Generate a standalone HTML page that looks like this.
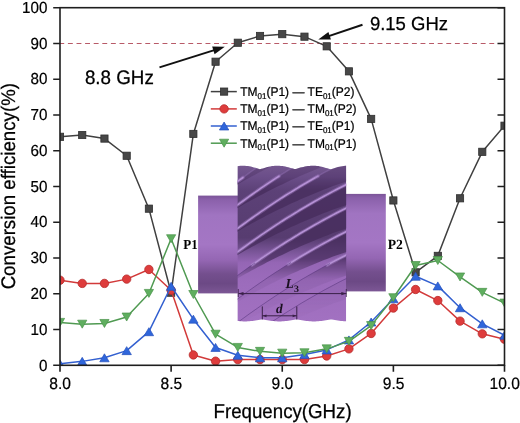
<!DOCTYPE html><html><head><meta charset="utf-8"><title>Conversion efficiency</title><style>html,body{margin:0;padding:0;background:#fff;}svg{display:block;}</style></head><body>
<svg width="520" height="423" viewBox="0 0 520 423" text-rendering="geometricPrecision" font-family='"Liberation Sans", sans-serif'>
<rect width="520" height="423" fill="#fff"/>
<line x1="59.3" y1="43.46" x2="504.5" y2="43.46" stroke="#b85a68" stroke-width="1.1" stroke-dasharray="4.9 3.7"/>
<defs>
<linearGradient id="fl" x1="0" y1="0" x2="0" y2="1"><stop offset="0" stop-color="#7b5598"/><stop offset="0.04" stop-color="#8a60aa"/><stop offset="0.2" stop-color="#a074c1"/><stop offset="0.5" stop-color="#a476c4"/><stop offset="0.66" stop-color="#9466b3"/><stop offset="0.8" stop-color="#744f8e"/><stop offset="0.9" stop-color="#6c4985"/><stop offset="1" stop-color="#7c5795"/></linearGradient>
<linearGradient id="bodyg" gradientUnits="userSpaceOnUse" x1="0" y1="166" x2="0" y2="322"><stop offset="0" stop-color="#74578f"/><stop offset="0.07" stop-color="#6b4e89"/><stop offset="0.16" stop-color="#5c4177"/><stop offset="0.46" stop-color="#573c70"/><stop offset="0.55" stop-color="#7a5598"/><stop offset="0.62" stop-color="#9566b5"/><stop offset="0.75" stop-color="#9c6cbc"/><stop offset="1" stop-color="#a271c1"/></linearGradient>
<clipPath id="bodyclip"><path d="M237.4,166.2 L238.9,166.0 L240.4,165.8 L241.9,165.7 L243.4,165.7 L244.9,165.7 L246.4,165.9 L247.9,166.0 L249.4,166.3 L250.9,166.6 L252.4,166.9 L253.9,167.4 L255.4,167.8 L256.9,168.3 L258.4,168.8 L259.9,169.3 L261.4,168.8 L262.9,168.4 L264.4,167.9 L265.9,167.5 L267.4,167.1 L268.9,166.7 L270.4,166.4 L271.9,166.1 L273.4,165.9 L274.9,165.8 L276.4,165.7 L277.9,165.7 L279.4,165.8 L280.9,165.9 L282.4,166.0 L283.9,166.3 L285.4,166.6 L286.9,166.9 L288.4,167.3 L289.9,167.7 L291.4,168.2 L292.9,168.6 L294.4,169.1 L295.9,169.0 L297.4,168.5 L298.9,168.1 L300.4,167.6 L301.9,167.2 L303.4,166.9 L304.9,166.5 L306.4,166.3 L307.9,166.0 L309.4,165.9 L310.9,165.7 L312.4,165.7 L313.9,165.7 L315.4,165.8 L316.9,165.9 L318.4,166.1 L319.9,166.4 L321.4,166.7 L322.9,167.1 L324.4,167.4 L325.9,167.9 L327.4,168.3 L328.9,168.8 L330.4,169.3 L331.9,168.9 L333.4,168.4 L334.9,167.9 L336.4,167.5 L337.9,167.1 L339.4,166.7 L340.9,166.4 L342.4,166.2 L343.9,166.0 L345.4,165.8 L346.2,165.8 L346.2,321.3 L345.4,321.3 L343.9,321.2 L342.4,321.1 L340.9,320.9 L339.4,320.7 L337.9,320.5 L336.4,320.3 L334.9,320.0 L333.4,319.8 L331.9,319.5 L330.4,319.6 L328.9,319.8 L327.4,320.1 L325.9,320.3 L324.4,320.6 L322.9,320.8 L321.4,321.0 L319.9,321.1 L318.4,321.2 L316.9,321.3 L315.4,321.4 L313.9,321.4 L312.4,321.4 L310.9,321.3 L309.4,321.2 L307.9,321.1 L306.4,320.9 L304.9,320.7 L303.4,320.5 L301.9,320.3 L300.4,320.0 L298.9,319.8 L297.4,319.5 L295.9,319.6 L294.4,319.8 L292.9,320.1 L291.4,320.3 L289.9,320.6 L288.4,320.8 L286.9,321.0 L285.4,321.1 L283.9,321.2 L282.4,321.3 L280.9,321.4 L279.4,321.4 L277.9,321.4 L276.4,321.3 L274.9,321.2 L273.4,321.1 L271.9,320.9 L270.4,320.7 L268.9,320.5 L267.4,320.3 L265.9,320.0 L264.4,319.8 L262.9,319.5 L261.4,319.6 L259.9,319.8 L258.4,320.1 L256.9,320.3 L255.4,320.6 L253.9,320.8 L252.4,321.0 L250.9,321.1 L249.4,321.2 L247.9,321.3 L246.4,321.4 L244.9,321.4 L243.4,321.4 L241.9,321.3 L240.4,321.2 L238.9,321.1 L237.4,320.9 Z"/></clipPath>
<linearGradient id="wm" gradientUnits="userSpaceOnUse" x1="0" y1="160" x2="0" y2="325"><stop offset="0" stop-color="#fff" stop-opacity="0.35"/><stop offset="0.1" stop-color="#fff" stop-opacity="0.5"/><stop offset="0.18" stop-color="#fff" stop-opacity="1"/><stop offset="0.6" stop-color="#fff" stop-opacity="1"/><stop offset="0.72" stop-color="#fff" stop-opacity="0.15"/><stop offset="1" stop-color="#fff" stop-opacity="0"/></linearGradient>
<mask id="wmask" maskUnits="userSpaceOnUse" x="230" y="155" width="125" height="175"><rect x="230" y="155" width="125" height="175" fill="url(#wm)"/></mask>
</defs>
<rect x="198.1" y="195.6" width="40" height="97.8" fill="url(#fl)"/>
<rect x="345.6" y="193.9" width="40.2" height="97.5" fill="url(#fl)"/>
<g clip-path="url(#bodyclip)">
<rect x="237.4" y="160" width="108.79999999999998" height="165" fill="url(#bodyg)"/>
<g mask="url(#wmask)">
<path d="M234.0,137.1 L237.0,134.9 L240.0,132.7 L243.0,130.5 L246.0,128.3 L249.0,126.1 L252.0,124.0 L255.0,121.9 L258.0,119.8 L261.0,117.7 L264.0,115.7 L267.0,113.6 L270.0,111.6 L273.0,109.6 L276.0,107.6 L279.0,105.7 L282.0,103.7 L285.0,101.8 L288.0,99.9 L291.0,98.1 L294.0,96.2 L297.0,94.4 L300.0,92.5 L303.0,90.7 L306.0,89.0 L309.0,87.2 L312.0,85.5 L315.0,83.8 L318.0,82.1 L321.0,80.4 L324.0,78.7 L327.0,77.1 L330.0,75.5 L333.0,73.9 L336.0,72.3 L339.0,70.7 L342.0,69.2 L345.0,67.7 L348.0,66.2 L351.0,64.7 L351.0,85.8 L348.0,86.8 L345.0,87.9 L342.0,88.9 L339.0,90.0 L336.0,91.0 L333.0,92.1 L330.0,93.3 L327.0,94.4 L324.0,95.6 L321.0,96.7 L318.0,97.9 L315.0,99.2 L312.0,100.4 L309.0,101.7 L306.0,102.9 L303.0,104.2 L300.0,105.5 L297.0,106.9 L294.0,108.2 L291.0,109.6 L288.0,111.0 L285.0,112.4 L282.0,113.9 L279.0,115.3 L276.0,116.8 L273.0,118.3 L270.0,119.8 L267.0,121.3 L264.0,122.9 L261.0,124.5 L258.0,126.1 L255.0,127.7 L252.0,129.3 L249.0,131.0 L246.0,132.6 L243.0,134.3 L240.0,136.1 L237.0,137.8 L234.0,139.5 Z" fill="#442b5a" fill-opacity="0.7"/>
<path d="M234.0,160.6 L237.0,158.4 L240.0,156.2 L243.0,154.0 L246.0,151.8 L249.0,149.6 L252.0,147.5 L255.0,145.4 L258.0,143.3 L261.0,141.2 L264.0,139.2 L267.0,137.1 L270.0,135.1 L273.0,133.1 L276.0,131.1 L279.0,129.2 L282.0,127.2 L285.0,125.3 L288.0,123.4 L291.0,121.6 L294.0,119.7 L297.0,117.9 L300.0,116.0 L303.0,114.2 L306.0,112.5 L309.0,110.7 L312.0,109.0 L315.0,107.3 L318.0,105.6 L321.0,103.9 L324.0,102.2 L327.0,100.6 L330.0,99.0 L333.0,97.4 L336.0,95.8 L339.0,94.2 L342.0,92.7 L345.0,91.2 L348.0,89.7 L351.0,88.2 L351.0,109.3 L348.0,110.3 L345.0,111.4 L342.0,112.4 L339.0,113.5 L336.0,114.5 L333.0,115.6 L330.0,116.8 L327.0,117.9 L324.0,119.1 L321.0,120.2 L318.0,121.4 L315.0,122.7 L312.0,123.9 L309.0,125.2 L306.0,126.4 L303.0,127.7 L300.0,129.0 L297.0,130.4 L294.0,131.7 L291.0,133.1 L288.0,134.5 L285.0,135.9 L282.0,137.4 L279.0,138.8 L276.0,140.3 L273.0,141.8 L270.0,143.3 L267.0,144.8 L264.0,146.4 L261.0,148.0 L258.0,149.6 L255.0,151.2 L252.0,152.8 L249.0,154.5 L246.0,156.1 L243.0,157.8 L240.0,159.6 L237.0,161.3 L234.0,163.0 Z" fill="#442b5a" fill-opacity="0.7"/>
<path d="M234.0,184.1 L237.0,181.9 L240.0,179.7 L243.0,177.5 L246.0,175.3 L249.0,173.1 L252.0,171.0 L255.0,168.9 L258.0,166.8 L261.0,164.7 L264.0,162.7 L267.0,160.6 L270.0,158.6 L273.0,156.6 L276.0,154.6 L279.0,152.7 L282.0,150.7 L285.0,148.8 L288.0,146.9 L291.0,145.1 L294.0,143.2 L297.0,141.4 L300.0,139.5 L303.0,137.7 L306.0,136.0 L309.0,134.2 L312.0,132.5 L315.0,130.8 L318.0,129.1 L321.0,127.4 L324.0,125.7 L327.0,124.1 L330.0,122.5 L333.0,120.9 L336.0,119.3 L339.0,117.7 L342.0,116.2 L345.0,114.7 L348.0,113.2 L351.0,111.7 L351.0,132.8 L348.0,133.8 L345.0,134.9 L342.0,135.9 L339.0,137.0 L336.0,138.0 L333.0,139.1 L330.0,140.3 L327.0,141.4 L324.0,142.6 L321.0,143.7 L318.0,144.9 L315.0,146.2 L312.0,147.4 L309.0,148.7 L306.0,149.9 L303.0,151.2 L300.0,152.5 L297.0,153.9 L294.0,155.2 L291.0,156.6 L288.0,158.0 L285.0,159.4 L282.0,160.9 L279.0,162.3 L276.0,163.8 L273.0,165.3 L270.0,166.8 L267.0,168.3 L264.0,169.9 L261.0,171.5 L258.0,173.1 L255.0,174.7 L252.0,176.3 L249.0,178.0 L246.0,179.6 L243.0,181.3 L240.0,183.1 L237.0,184.8 L234.0,186.5 Z" fill="#442b5a" fill-opacity="0.7"/>
<path d="M234.0,207.6 L237.0,205.4 L240.0,203.2 L243.0,201.0 L246.0,198.8 L249.0,196.6 L252.0,194.5 L255.0,192.4 L258.0,190.3 L261.0,188.2 L264.0,186.2 L267.0,184.1 L270.0,182.1 L273.0,180.1 L276.0,178.1 L279.0,176.2 L282.0,174.2 L285.0,172.3 L288.0,170.4 L291.0,168.6 L294.0,166.7 L297.0,164.9 L300.0,163.0 L303.0,161.2 L306.0,159.5 L309.0,157.7 L312.0,156.0 L315.0,154.3 L318.0,152.6 L321.0,150.9 L324.0,149.2 L327.0,147.6 L330.0,146.0 L333.0,144.4 L336.0,142.8 L339.0,141.2 L342.0,139.7 L345.0,138.2 L348.0,136.7 L351.0,135.2 L351.0,156.3 L348.0,157.3 L345.0,158.4 L342.0,159.4 L339.0,160.5 L336.0,161.5 L333.0,162.6 L330.0,163.8 L327.0,164.9 L324.0,166.1 L321.0,167.2 L318.0,168.4 L315.0,169.7 L312.0,170.9 L309.0,172.2 L306.0,173.4 L303.0,174.7 L300.0,176.0 L297.0,177.4 L294.0,178.7 L291.0,180.1 L288.0,181.5 L285.0,182.9 L282.0,184.4 L279.0,185.8 L276.0,187.3 L273.0,188.8 L270.0,190.3 L267.0,191.8 L264.0,193.4 L261.0,195.0 L258.0,196.6 L255.0,198.2 L252.0,199.8 L249.0,201.5 L246.0,203.1 L243.0,204.8 L240.0,206.6 L237.0,208.3 L234.0,210.0 Z" fill="#442b5a" fill-opacity="0.7"/>
<path d="M234.0,231.1 L237.0,228.9 L240.0,226.7 L243.0,224.5 L246.0,222.3 L249.0,220.1 L252.0,218.0 L255.0,215.9 L258.0,213.8 L261.0,211.7 L264.0,209.7 L267.0,207.6 L270.0,205.6 L273.0,203.6 L276.0,201.6 L279.0,199.7 L282.0,197.7 L285.0,195.8 L288.0,193.9 L291.0,192.1 L294.0,190.2 L297.0,188.4 L300.0,186.5 L303.0,184.7 L306.0,183.0 L309.0,181.2 L312.0,179.5 L315.0,177.8 L318.0,176.1 L321.0,174.4 L324.0,172.7 L327.0,171.1 L330.0,169.5 L333.0,167.9 L336.0,166.3 L339.0,164.7 L342.0,163.2 L345.0,161.7 L348.0,160.2 L351.0,158.7 L351.0,179.8 L348.0,180.8 L345.0,181.9 L342.0,182.9 L339.0,184.0 L336.0,185.0 L333.0,186.1 L330.0,187.3 L327.0,188.4 L324.0,189.6 L321.0,190.7 L318.0,191.9 L315.0,193.2 L312.0,194.4 L309.0,195.7 L306.0,196.9 L303.0,198.2 L300.0,199.5 L297.0,200.9 L294.0,202.2 L291.0,203.6 L288.0,205.0 L285.0,206.4 L282.0,207.9 L279.0,209.3 L276.0,210.8 L273.0,212.3 L270.0,213.8 L267.0,215.3 L264.0,216.9 L261.0,218.5 L258.0,220.1 L255.0,221.7 L252.0,223.3 L249.0,225.0 L246.0,226.6 L243.0,228.3 L240.0,230.1 L237.0,231.8 L234.0,233.5 Z" fill="#442b5a" fill-opacity="0.7"/>
<path d="M234.0,254.6 L237.0,252.4 L240.0,250.2 L243.0,248.0 L246.0,245.8 L249.0,243.6 L252.0,241.5 L255.0,239.4 L258.0,237.3 L261.0,235.2 L264.0,233.2 L267.0,231.1 L270.0,229.1 L273.0,227.1 L276.0,225.1 L279.0,223.2 L282.0,221.2 L285.0,219.3 L288.0,217.4 L291.0,215.6 L294.0,213.7 L297.0,211.9 L300.0,210.0 L303.0,208.2 L306.0,206.5 L309.0,204.7 L312.0,203.0 L315.0,201.3 L318.0,199.6 L321.0,197.9 L324.0,196.2 L327.0,194.6 L330.0,193.0 L333.0,191.4 L336.0,189.8 L339.0,188.2 L342.0,186.7 L345.0,185.2 L348.0,183.7 L351.0,182.2 L351.0,203.3 L348.0,204.3 L345.0,205.4 L342.0,206.4 L339.0,207.5 L336.0,208.5 L333.0,209.6 L330.0,210.8 L327.0,211.9 L324.0,213.1 L321.0,214.2 L318.0,215.4 L315.0,216.7 L312.0,217.9 L309.0,219.2 L306.0,220.4 L303.0,221.7 L300.0,223.0 L297.0,224.4 L294.0,225.7 L291.0,227.1 L288.0,228.5 L285.0,229.9 L282.0,231.4 L279.0,232.8 L276.0,234.3 L273.0,235.8 L270.0,237.3 L267.0,238.8 L264.0,240.4 L261.0,242.0 L258.0,243.6 L255.0,245.2 L252.0,246.8 L249.0,248.5 L246.0,250.1 L243.0,251.8 L240.0,253.6 L237.0,255.3 L234.0,257.0 Z" fill="#442b5a" fill-opacity="0.7"/>
<path d="M234.0,278.1 L237.0,275.9 L240.0,273.7 L243.0,271.5 L246.0,269.3 L249.0,267.1 L252.0,265.0 L255.0,262.9 L258.0,260.8 L261.0,258.7 L264.0,256.7 L267.0,254.6 L270.0,252.6 L273.0,250.6 L276.0,248.6 L279.0,246.7 L282.0,244.7 L285.0,242.8 L288.0,240.9 L291.0,239.1 L294.0,237.2 L297.0,235.4 L300.0,233.5 L303.0,231.7 L306.0,230.0 L309.0,228.2 L312.0,226.5 L315.0,224.8 L318.0,223.1 L321.0,221.4 L324.0,219.7 L327.0,218.1 L330.0,216.5 L333.0,214.9 L336.0,213.3 L339.0,211.7 L342.0,210.2 L345.0,208.7 L348.0,207.2 L351.0,205.7 L351.0,226.8 L348.0,227.8 L345.0,228.9 L342.0,229.9 L339.0,231.0 L336.0,232.0 L333.0,233.1 L330.0,234.3 L327.0,235.4 L324.0,236.6 L321.0,237.7 L318.0,238.9 L315.0,240.2 L312.0,241.4 L309.0,242.7 L306.0,243.9 L303.0,245.2 L300.0,246.5 L297.0,247.9 L294.0,249.2 L291.0,250.6 L288.0,252.0 L285.0,253.4 L282.0,254.9 L279.0,256.3 L276.0,257.8 L273.0,259.3 L270.0,260.8 L267.0,262.3 L264.0,263.9 L261.0,265.5 L258.0,267.1 L255.0,268.7 L252.0,270.3 L249.0,272.0 L246.0,273.6 L243.0,275.3 L240.0,277.1 L237.0,278.8 L234.0,280.5 Z" fill="#442b5a" fill-opacity="0.7"/>
<path d="M234.0,301.6 L237.0,299.4 L240.0,297.2 L243.0,295.0 L246.0,292.8 L249.0,290.6 L252.0,288.5 L255.0,286.4 L258.0,284.3 L261.0,282.2 L264.0,280.2 L267.0,278.1 L270.0,276.1 L273.0,274.1 L276.0,272.1 L279.0,270.2 L282.0,268.2 L285.0,266.3 L288.0,264.4 L291.0,262.6 L294.0,260.7 L297.0,258.9 L300.0,257.0 L303.0,255.2 L306.0,253.5 L309.0,251.7 L312.0,250.0 L315.0,248.3 L318.0,246.6 L321.0,244.9 L324.0,243.2 L327.0,241.6 L330.0,240.0 L333.0,238.4 L336.0,236.8 L339.0,235.2 L342.0,233.7 L345.0,232.2 L348.0,230.7 L351.0,229.2 L351.0,250.3 L348.0,251.3 L345.0,252.4 L342.0,253.4 L339.0,254.5 L336.0,255.5 L333.0,256.6 L330.0,257.8 L327.0,258.9 L324.0,260.1 L321.0,261.2 L318.0,262.4 L315.0,263.7 L312.0,264.9 L309.0,266.2 L306.0,267.4 L303.0,268.7 L300.0,270.0 L297.0,271.4 L294.0,272.7 L291.0,274.1 L288.0,275.5 L285.0,276.9 L282.0,278.4 L279.0,279.8 L276.0,281.3 L273.0,282.8 L270.0,284.3 L267.0,285.8 L264.0,287.4 L261.0,289.0 L258.0,290.6 L255.0,292.2 L252.0,293.8 L249.0,295.5 L246.0,297.1 L243.0,298.8 L240.0,300.6 L237.0,302.3 L234.0,304.0 Z" fill="#442b5a" fill-opacity="0.7"/>
<path d="M234.0,325.1 L237.0,322.9 L240.0,320.7 L243.0,318.5 L246.0,316.3 L249.0,314.1 L252.0,312.0 L255.0,309.9 L258.0,307.8 L261.0,305.7 L264.0,303.7 L267.0,301.6 L270.0,299.6 L273.0,297.6 L276.0,295.6 L279.0,293.7 L282.0,291.7 L285.0,289.8 L288.0,287.9 L291.0,286.1 L294.0,284.2 L297.0,282.4 L300.0,280.5 L303.0,278.7 L306.0,277.0 L309.0,275.2 L312.0,273.5 L315.0,271.8 L318.0,270.1 L321.0,268.4 L324.0,266.7 L327.0,265.1 L330.0,263.5 L333.0,261.9 L336.0,260.3 L339.0,258.7 L342.0,257.2 L345.0,255.7 L348.0,254.2 L351.0,252.7 L351.0,273.8 L348.0,274.8 L345.0,275.9 L342.0,276.9 L339.0,278.0 L336.0,279.0 L333.0,280.1 L330.0,281.3 L327.0,282.4 L324.0,283.6 L321.0,284.7 L318.0,285.9 L315.0,287.2 L312.0,288.4 L309.0,289.7 L306.0,290.9 L303.0,292.2 L300.0,293.5 L297.0,294.9 L294.0,296.2 L291.0,297.6 L288.0,299.0 L285.0,300.4 L282.0,301.9 L279.0,303.3 L276.0,304.8 L273.0,306.3 L270.0,307.8 L267.0,309.3 L264.0,310.9 L261.0,312.5 L258.0,314.1 L255.0,315.7 L252.0,317.3 L249.0,319.0 L246.0,320.6 L243.0,322.3 L240.0,324.1 L237.0,325.8 L234.0,327.5 Z" fill="#442b5a" fill-opacity="0.7"/>
<path d="M234.0,348.6 L237.0,346.4 L240.0,344.2 L243.0,342.0 L246.0,339.8 L249.0,337.6 L252.0,335.5 L255.0,333.4 L258.0,331.3 L261.0,329.2 L264.0,327.2 L267.0,325.1 L270.0,323.1 L273.0,321.1 L276.0,319.1 L279.0,317.2 L282.0,315.2 L285.0,313.3 L288.0,311.4 L291.0,309.6 L294.0,307.7 L297.0,305.9 L300.0,304.0 L303.0,302.2 L306.0,300.5 L309.0,298.7 L312.0,297.0 L315.0,295.3 L318.0,293.6 L321.0,291.9 L324.0,290.2 L327.0,288.6 L330.0,287.0 L333.0,285.4 L336.0,283.8 L339.0,282.2 L342.0,280.7 L345.0,279.2 L348.0,277.7 L351.0,276.2 L351.0,297.3 L348.0,298.3 L345.0,299.4 L342.0,300.4 L339.0,301.5 L336.0,302.5 L333.0,303.6 L330.0,304.8 L327.0,305.9 L324.0,307.1 L321.0,308.2 L318.0,309.4 L315.0,310.7 L312.0,311.9 L309.0,313.2 L306.0,314.4 L303.0,315.7 L300.0,317.0 L297.0,318.4 L294.0,319.7 L291.0,321.1 L288.0,322.5 L285.0,323.9 L282.0,325.4 L279.0,326.8 L276.0,328.3 L273.0,329.8 L270.0,331.3 L267.0,332.8 L264.0,334.4 L261.0,336.0 L258.0,337.6 L255.0,339.2 L252.0,340.8 L249.0,342.5 L246.0,344.1 L243.0,345.8 L240.0,347.6 L237.0,349.3 L234.0,351.0 Z" fill="#442b5a" fill-opacity="0.7"/>
</g>
<path d="M234.0,184.1 L237.0,181.9 L240.0,179.7 L243.0,177.5" stroke="#a27cc4" stroke-width="3.6" fill="none" stroke-linecap="round" opacity="0.45"/>
<path d="M234.0,184.1 L237.0,181.9 L240.0,179.7 L243.0,177.5" stroke="#b590d5" stroke-width="1.6" fill="none" stroke-linecap="round"/>
<path d="M243.0,177.5 L246.0,175.3 L249.0,173.1 L252.0,171.0 L255.0,168.9 L258.0,166.8 L261.0,164.7 L264.0,162.7 L267.0,160.6" stroke="#9d7abf" stroke-width="1.5" fill="none" opacity="0.35"/>
<path d="M234.0,207.6 L237.0,205.4 L240.0,203.2 L243.0,201.0 L246.0,198.8 L249.0,196.6 L252.0,194.5 L255.0,192.4 L258.0,190.3 L261.0,188.2 L264.0,186.2 L267.0,184.1 L270.0,182.1 L273.0,180.1 L276.0,178.1 L279.0,176.2" stroke="#a27cc4" stroke-width="3.6" fill="none" stroke-linecap="round" opacity="0.45"/>
<path d="M234.0,207.6 L237.0,205.4 L240.0,203.2 L243.0,201.0 L246.0,198.8 L249.0,196.6 L252.0,194.5 L255.0,192.4 L258.0,190.3 L261.0,188.2 L264.0,186.2 L267.0,184.1 L270.0,182.1 L273.0,180.1 L276.0,178.1 L279.0,176.2" stroke="#b590d5" stroke-width="1.6" fill="none" stroke-linecap="round"/>
<path d="M279.0,176.2 L282.0,174.2 L285.0,172.3 L288.0,170.4 L291.0,168.6 L294.0,166.7 L297.0,164.9 L300.0,163.0 L303.0,161.2" stroke="#9d7abf" stroke-width="1.5" fill="none" opacity="0.35"/>
<path d="M234.0,231.1 L237.0,228.9 L240.0,226.7 L243.0,224.5 L246.0,222.3 L249.0,220.1 L252.0,218.0 L255.0,215.9 L258.0,213.8 L261.0,211.7 L264.0,209.7 L267.0,207.6 L270.0,205.6 L273.0,203.6 L276.0,201.6 L279.0,199.7 L282.0,197.7 L285.0,195.8 L288.0,193.9 L291.0,192.1 L294.0,190.2 L297.0,188.4 L300.0,186.5 L303.0,184.7 L306.0,183.0 L309.0,181.2 L312.0,179.5 L315.0,177.8 L318.0,176.1" stroke="#a27cc4" stroke-width="3.6" fill="none" stroke-linecap="round" opacity="0.45"/>
<path d="M234.0,231.1 L237.0,228.9 L240.0,226.7 L243.0,224.5 L246.0,222.3 L249.0,220.1 L252.0,218.0 L255.0,215.9 L258.0,213.8 L261.0,211.7 L264.0,209.7 L267.0,207.6 L270.0,205.6 L273.0,203.6 L276.0,201.6 L279.0,199.7 L282.0,197.7 L285.0,195.8 L288.0,193.9 L291.0,192.1 L294.0,190.2 L297.0,188.4 L300.0,186.5 L303.0,184.7 L306.0,183.0 L309.0,181.2 L312.0,179.5 L315.0,177.8 L318.0,176.1" stroke="#b590d5" stroke-width="1.6" fill="none" stroke-linecap="round"/>
<path d="M315.0,177.8 L318.0,176.1 L321.0,174.4 L324.0,172.7 L327.0,171.1 L330.0,169.5 L333.0,167.9 L336.0,166.3 L339.0,164.7 L342.0,163.2 L345.0,161.7 L348.0,160.2" stroke="#9d7abf" stroke-width="1.5" fill="none" opacity="0.35"/>
<path d="M234.0,254.6 L237.0,252.4 L240.0,250.2 L243.0,248.0 L246.0,245.8 L249.0,243.6 L252.0,241.5 L255.0,239.4 L258.0,237.3 L261.0,235.2 L264.0,233.2 L267.0,231.1 L270.0,229.1 L273.0,227.1 L276.0,225.1 L279.0,223.2 L282.0,221.2 L285.0,219.3 L288.0,217.4 L291.0,215.6 L294.0,213.7 L297.0,211.9 L300.0,210.0 L303.0,208.2 L306.0,206.5 L309.0,204.7 L312.0,203.0 L315.0,201.3 L318.0,199.6 L321.0,197.9 L324.0,196.2 L327.0,194.6 L330.0,193.0 L333.0,191.4 L336.0,189.8 L339.0,188.2 L342.0,186.7 L345.0,185.2 L348.0,183.7 L351.0,182.2" stroke="#a27cc4" stroke-width="3.6" fill="none" stroke-linecap="round" opacity="0.45"/>
<path d="M234.0,254.6 L237.0,252.4 L240.0,250.2 L243.0,248.0 L246.0,245.8 L249.0,243.6 L252.0,241.5 L255.0,239.4 L258.0,237.3 L261.0,235.2 L264.0,233.2 L267.0,231.1 L270.0,229.1 L273.0,227.1 L276.0,225.1 L279.0,223.2 L282.0,221.2 L285.0,219.3 L288.0,217.4 L291.0,215.6 L294.0,213.7 L297.0,211.9 L300.0,210.0 L303.0,208.2 L306.0,206.5 L309.0,204.7 L312.0,203.0 L315.0,201.3 L318.0,199.6 L321.0,197.9 L324.0,196.2 L327.0,194.6 L330.0,193.0 L333.0,191.4 L336.0,189.8 L339.0,188.2 L342.0,186.7 L345.0,185.2 L348.0,183.7 L351.0,182.2" stroke="#b590d5" stroke-width="1.6" fill="none" stroke-linecap="round"/>
<path d="M252.0,265.0 L255.0,262.9 L258.0,260.8 L261.0,258.7 L264.0,256.7 L267.0,254.6 L270.0,252.6 L273.0,250.6 L276.0,248.6 L279.0,246.7 L282.0,244.7 L285.0,242.8 L288.0,240.9 L291.0,239.1 L294.0,237.2 L297.0,235.4 L300.0,233.5 L303.0,231.7 L306.0,230.0 L309.0,228.2 L312.0,226.5 L315.0,224.8 L318.0,223.1 L321.0,221.4 L324.0,219.7 L327.0,218.1 L330.0,216.5 L333.0,214.9 L336.0,213.3 L339.0,211.7 L342.0,210.2 L345.0,208.7 L348.0,207.2 L351.0,205.7" stroke="#a27cc4" stroke-width="3.6" fill="none" stroke-linecap="round" opacity="0.45"/>
<path d="M252.0,265.0 L255.0,262.9 L258.0,260.8 L261.0,258.7 L264.0,256.7 L267.0,254.6 L270.0,252.6 L273.0,250.6 L276.0,248.6 L279.0,246.7 L282.0,244.7 L285.0,242.8 L288.0,240.9 L291.0,239.1 L294.0,237.2 L297.0,235.4 L300.0,233.5 L303.0,231.7 L306.0,230.0 L309.0,228.2 L312.0,226.5 L315.0,224.8 L318.0,223.1 L321.0,221.4 L324.0,219.7 L327.0,218.1 L330.0,216.5 L333.0,214.9 L336.0,213.3 L339.0,211.7 L342.0,210.2 L345.0,208.7 L348.0,207.2 L351.0,205.7" stroke="#b590d5" stroke-width="1.6" fill="none" stroke-linecap="round"/>
<path d="M234.0,278.1 L237.0,275.9 L240.0,273.7 L243.0,271.5 L246.0,269.3 L249.0,267.1 L252.0,265.0 L255.0,262.9" stroke="#55357a" stroke-width="0.9" fill="none" opacity="0.6"/>
<path d="M288.0,264.4 L291.0,262.6 L294.0,260.7 L297.0,258.9 L300.0,257.0 L303.0,255.2 L306.0,253.5 L309.0,251.7 L312.0,250.0 L315.0,248.3 L318.0,246.6 L321.0,244.9 L324.0,243.2 L327.0,241.6 L330.0,240.0 L333.0,238.4 L336.0,236.8 L339.0,235.2 L342.0,233.7 L345.0,232.2 L348.0,230.7 L351.0,229.2" stroke="#a27cc4" stroke-width="3.6" fill="none" stroke-linecap="round" opacity="0.45"/>
<path d="M288.0,264.4 L291.0,262.6 L294.0,260.7 L297.0,258.9 L300.0,257.0 L303.0,255.2 L306.0,253.5 L309.0,251.7 L312.0,250.0 L315.0,248.3 L318.0,246.6 L321.0,244.9 L324.0,243.2 L327.0,241.6 L330.0,240.0 L333.0,238.4 L336.0,236.8 L339.0,235.2 L342.0,233.7 L345.0,232.2 L348.0,230.7 L351.0,229.2" stroke="#b590d5" stroke-width="1.6" fill="none" stroke-linecap="round"/>
<path d="M234.0,301.6 L237.0,299.4 L240.0,297.2 L243.0,295.0 L246.0,292.8 L249.0,290.6 L252.0,288.5 L255.0,286.4 L258.0,284.3 L261.0,282.2 L264.0,280.2 L267.0,278.1 L270.0,276.1 L273.0,274.1 L276.0,272.1 L279.0,270.2 L282.0,268.2 L285.0,266.3 L288.0,264.4 L291.0,262.6" stroke="#55357a" stroke-width="0.9" fill="none" opacity="0.6"/>
<path d="M327.0,265.1 L330.0,263.5 L333.0,261.9 L336.0,260.3 L339.0,258.7 L342.0,257.2 L345.0,255.7 L348.0,254.2 L351.0,252.7" stroke="#a27cc4" stroke-width="3.6" fill="none" stroke-linecap="round" opacity="0.45"/>
<path d="M327.0,265.1 L330.0,263.5 L333.0,261.9 L336.0,260.3 L339.0,258.7 L342.0,257.2 L345.0,255.7 L348.0,254.2 L351.0,252.7" stroke="#b590d5" stroke-width="1.6" fill="none" stroke-linecap="round"/>
<path d="M234.0,325.1 L237.0,322.9 L240.0,320.7 L243.0,318.5 L246.0,316.3 L249.0,314.1 L252.0,312.0 L255.0,309.9 L258.0,307.8 L261.0,305.7 L264.0,303.7 L267.0,301.6 L270.0,299.6 L273.0,297.6 L276.0,295.6 L279.0,293.7 L282.0,291.7 L285.0,289.8 L288.0,287.9 L291.0,286.1 L294.0,284.2 L297.0,282.4 L300.0,280.5 L303.0,278.7 L306.0,277.0 L309.0,275.2 L312.0,273.5 L315.0,271.8 L318.0,270.1 L321.0,268.4 L324.0,266.7 L327.0,265.1 L330.0,263.5" stroke="#55357a" stroke-width="0.9" fill="none" opacity="0.6"/>
<path d="M234.0,348.6 L237.0,346.4 L240.0,344.2 L243.0,342.0 L246.0,339.8 L249.0,337.6 L252.0,335.5 L255.0,333.4 L258.0,331.3 L261.0,329.2 L264.0,327.2 L267.0,325.1 L270.0,323.1 L273.0,321.1 L276.0,319.1 L279.0,317.2 L282.0,315.2 L285.0,313.3 L288.0,311.4 L291.0,309.6 L294.0,307.7 L297.0,305.9 L300.0,304.0 L303.0,302.2 L306.0,300.5 L309.0,298.7 L312.0,297.0 L315.0,295.3 L318.0,293.6 L321.0,291.9 L324.0,290.2 L327.0,288.6 L330.0,287.0 L333.0,285.4 L336.0,283.8 L339.0,282.2 L342.0,280.7 L345.0,279.2 L348.0,277.7 L351.0,276.2" stroke="#55357a" stroke-width="0.9" fill="none" opacity="0.6"/>
</g>
<g stroke="#3a2048" fill="#3a2048">
<line x1="238.5" y1="293.6" x2="346.3" y2="293.6" stroke-width="1"/>
<polygon points="238.3,293.6 243.5,291.9 243.5,295.3" stroke="none"/>
<polygon points="346.5,293.6 341.3,291.9 341.3,295.3" stroke="none"/>
<line x1="238.3" y1="289" x2="238.3" y2="297" stroke-width="0.8"/>
<line x1="346.3" y1="289" x2="346.3" y2="297" stroke-width="0.8"/>
<line x1="262.3" y1="315.8" x2="296.8" y2="315.8" stroke-width="1"/>
<line x1="262.3" y1="306.4" x2="262.3" y2="319.4" stroke-width="1"/>
<line x1="296.8" y1="306.4" x2="296.8" y2="319.4" stroke-width="1"/>
<polygon points="262.5,315.8 266.5,314.4 266.5,317.2" stroke="none"/>
<polygon points="296.6,315.8 292.6,314.4 292.6,317.2" stroke="none"/>
</g>
<g font-family='"Liberation Serif", serif' font-weight="bold" fill="#1a1020">
<text x="285.6" y="288.3" font-size="13.6" font-style="italic">L<tspan font-size="10" dy="3.2" font-style="normal">3</tspan></text>
<text x="276.0" y="312.9" font-size="13.4" font-style="italic">d</text>
</g>
<g font-family='"Liberation Serif", serif' font-weight="bold" font-size="13.4" fill="#000">
<text transform="translate(183.3 248.5) scale(0.97 1.03)">P1</text>
<text transform="translate(387.7 248.5) scale(1.02 1.05)">P2</text>
</g>
<defs><clipPath id="plotclip"><rect x="60.0" y="7.7" width="444.5" height="357.6"/></clipPath></defs>
<g clip-path="url(#plotclip)">
<polyline points="60.00,136.79 82.22,135.01 104.45,138.58 126.68,155.75 148.90,208.67 171.12,292.71 193.35,133.93 215.57,61.70 237.80,42.74 260.03,35.95 282.25,34.16 304.47,36.67 326.70,46.32 348.93,71.35 371.15,118.91 393.38,200.45 415.60,272.32 437.82,255.87 460.05,198.30 482.28,151.81 504.50,125.71" fill="none" stroke="#404040" stroke-width="1.5" stroke-linejoin="round"/>
<rect x="56.40" y="133.19" width="7.2" height="7.2" fill="#474747" stroke="#2e2e2e" stroke-width="0.8"/><rect x="78.62" y="131.41" width="7.2" height="7.2" fill="#474747" stroke="#2e2e2e" stroke-width="0.8"/><rect x="100.85" y="134.98" width="7.2" height="7.2" fill="#474747" stroke="#2e2e2e" stroke-width="0.8"/><rect x="123.08" y="152.15" width="7.2" height="7.2" fill="#474747" stroke="#2e2e2e" stroke-width="0.8"/><rect x="145.30" y="205.07" width="7.2" height="7.2" fill="#474747" stroke="#2e2e2e" stroke-width="0.8"/><rect x="167.53" y="289.11" width="7.2" height="7.2" fill="#474747" stroke="#2e2e2e" stroke-width="0.8"/><rect x="189.75" y="130.33" width="7.2" height="7.2" fill="#474747" stroke="#2e2e2e" stroke-width="0.8"/><rect x="211.97" y="58.10" width="7.2" height="7.2" fill="#474747" stroke="#2e2e2e" stroke-width="0.8"/><rect x="234.20" y="39.14" width="7.2" height="7.2" fill="#474747" stroke="#2e2e2e" stroke-width="0.8"/><rect x="256.43" y="32.35" width="7.2" height="7.2" fill="#474747" stroke="#2e2e2e" stroke-width="0.8"/><rect x="278.65" y="30.56" width="7.2" height="7.2" fill="#474747" stroke="#2e2e2e" stroke-width="0.8"/><rect x="300.87" y="33.07" width="7.2" height="7.2" fill="#474747" stroke="#2e2e2e" stroke-width="0.8"/><rect x="323.10" y="42.72" width="7.2" height="7.2" fill="#474747" stroke="#2e2e2e" stroke-width="0.8"/><rect x="345.33" y="67.75" width="7.2" height="7.2" fill="#474747" stroke="#2e2e2e" stroke-width="0.8"/><rect x="367.55" y="115.31" width="7.2" height="7.2" fill="#474747" stroke="#2e2e2e" stroke-width="0.8"/><rect x="389.77" y="196.85" width="7.2" height="7.2" fill="#474747" stroke="#2e2e2e" stroke-width="0.8"/><rect x="412.00" y="268.72" width="7.2" height="7.2" fill="#474747" stroke="#2e2e2e" stroke-width="0.8"/><rect x="434.22" y="252.27" width="7.2" height="7.2" fill="#474747" stroke="#2e2e2e" stroke-width="0.8"/><rect x="456.45" y="194.70" width="7.2" height="7.2" fill="#474747" stroke="#2e2e2e" stroke-width="0.8"/><rect x="478.68" y="148.21" width="7.2" height="7.2" fill="#474747" stroke="#2e2e2e" stroke-width="0.8"/><rect x="500.90" y="122.11" width="7.2" height="7.2" fill="#474747" stroke="#2e2e2e" stroke-width="0.8"/>

<polyline points="60.00,280.19 82.22,283.41 104.45,283.41 126.68,279.12 148.90,269.46 171.12,290.20 193.35,354.93 215.57,361.19 237.80,359.58 260.03,359.58 282.25,359.58 304.47,359.58 326.70,356.00 348.93,348.85 371.15,333.47 393.38,308.08 415.60,289.49 437.82,300.57 460.05,321.14 482.28,333.83 504.50,339.20" fill="none" stroke="#d23a3a" stroke-width="1.5" stroke-linejoin="round"/>
<circle cx="60.00" cy="280.19" r="4.2" fill="#de3c3c" stroke="#b82c2c" stroke-width="0.8"/><circle cx="82.22" cy="283.41" r="4.2" fill="#de3c3c" stroke="#b82c2c" stroke-width="0.8"/><circle cx="104.45" cy="283.41" r="4.2" fill="#de3c3c" stroke="#b82c2c" stroke-width="0.8"/><circle cx="126.68" cy="279.12" r="4.2" fill="#de3c3c" stroke="#b82c2c" stroke-width="0.8"/><circle cx="148.90" cy="269.46" r="4.2" fill="#de3c3c" stroke="#b82c2c" stroke-width="0.8"/><circle cx="171.12" cy="290.20" r="4.2" fill="#de3c3c" stroke="#b82c2c" stroke-width="0.8"/><circle cx="193.35" cy="354.93" r="4.2" fill="#de3c3c" stroke="#b82c2c" stroke-width="0.8"/><circle cx="215.57" cy="361.19" r="4.2" fill="#de3c3c" stroke="#b82c2c" stroke-width="0.8"/><circle cx="237.80" cy="359.58" r="4.2" fill="#de3c3c" stroke="#b82c2c" stroke-width="0.8"/><circle cx="260.03" cy="359.58" r="4.2" fill="#de3c3c" stroke="#b82c2c" stroke-width="0.8"/><circle cx="282.25" cy="359.58" r="4.2" fill="#de3c3c" stroke="#b82c2c" stroke-width="0.8"/><circle cx="304.47" cy="359.58" r="4.2" fill="#de3c3c" stroke="#b82c2c" stroke-width="0.8"/><circle cx="326.70" cy="356.00" r="4.2" fill="#de3c3c" stroke="#b82c2c" stroke-width="0.8"/><circle cx="348.93" cy="348.85" r="4.2" fill="#de3c3c" stroke="#b82c2c" stroke-width="0.8"/><circle cx="371.15" cy="333.47" r="4.2" fill="#de3c3c" stroke="#b82c2c" stroke-width="0.8"/><circle cx="393.38" cy="308.08" r="4.2" fill="#de3c3c" stroke="#b82c2c" stroke-width="0.8"/><circle cx="415.60" cy="289.49" r="4.2" fill="#de3c3c" stroke="#b82c2c" stroke-width="0.8"/><circle cx="437.82" cy="300.57" r="4.2" fill="#de3c3c" stroke="#b82c2c" stroke-width="0.8"/><circle cx="460.05" cy="321.14" r="4.2" fill="#de3c3c" stroke="#b82c2c" stroke-width="0.8"/><circle cx="482.28" cy="333.83" r="4.2" fill="#de3c3c" stroke="#b82c2c" stroke-width="0.8"/><circle cx="504.50" cy="339.20" r="4.2" fill="#de3c3c" stroke="#b82c2c" stroke-width="0.8"/>

<polyline points="60.00,363.87 82.22,361.37 104.45,357.79 126.68,350.64 148.90,331.69 171.12,286.27 193.35,319.17 215.57,347.42 237.80,355.29 260.03,357.79 282.25,357.79 304.47,354.57 326.70,349.92 348.93,339.91 371.15,322.03 393.38,298.79 415.60,276.26 437.82,285.91 460.05,307.73 482.28,323.82 504.50,335.26" fill="none" stroke="#3360d0" stroke-width="1.5" stroke-linejoin="round"/>
<polygon points="60.00,359.87 64.70,367.87 55.30,367.87" fill="#2f66db" stroke="#2550bb" stroke-width="0.7" stroke-linejoin="round"/><polygon points="82.22,357.37 86.92,365.37 77.52,365.37" fill="#2f66db" stroke="#2550bb" stroke-width="0.7" stroke-linejoin="round"/><polygon points="104.45,353.79 109.15,361.79 99.75,361.79" fill="#2f66db" stroke="#2550bb" stroke-width="0.7" stroke-linejoin="round"/><polygon points="126.68,346.64 131.38,354.64 121.98,354.64" fill="#2f66db" stroke="#2550bb" stroke-width="0.7" stroke-linejoin="round"/><polygon points="148.90,327.69 153.60,335.69 144.20,335.69" fill="#2f66db" stroke="#2550bb" stroke-width="0.7" stroke-linejoin="round"/><polygon points="171.12,282.27 175.82,290.27 166.43,290.27" fill="#2f66db" stroke="#2550bb" stroke-width="0.7" stroke-linejoin="round"/><polygon points="193.35,315.17 198.05,323.17 188.65,323.17" fill="#2f66db" stroke="#2550bb" stroke-width="0.7" stroke-linejoin="round"/><polygon points="215.57,343.42 220.27,351.42 210.87,351.42" fill="#2f66db" stroke="#2550bb" stroke-width="0.7" stroke-linejoin="round"/><polygon points="237.80,351.29 242.50,359.29 233.10,359.29" fill="#2f66db" stroke="#2550bb" stroke-width="0.7" stroke-linejoin="round"/><polygon points="260.03,353.79 264.73,361.79 255.33,361.79" fill="#2f66db" stroke="#2550bb" stroke-width="0.7" stroke-linejoin="round"/><polygon points="282.25,353.79 286.95,361.79 277.55,361.79" fill="#2f66db" stroke="#2550bb" stroke-width="0.7" stroke-linejoin="round"/><polygon points="304.47,350.57 309.17,358.57 299.77,358.57" fill="#2f66db" stroke="#2550bb" stroke-width="0.7" stroke-linejoin="round"/><polygon points="326.70,345.92 331.40,353.92 322.00,353.92" fill="#2f66db" stroke="#2550bb" stroke-width="0.7" stroke-linejoin="round"/><polygon points="348.93,335.91 353.63,343.91 344.23,343.91" fill="#2f66db" stroke="#2550bb" stroke-width="0.7" stroke-linejoin="round"/><polygon points="371.15,318.03 375.85,326.03 366.45,326.03" fill="#2f66db" stroke="#2550bb" stroke-width="0.7" stroke-linejoin="round"/><polygon points="393.38,294.79 398.07,302.79 388.68,302.79" fill="#2f66db" stroke="#2550bb" stroke-width="0.7" stroke-linejoin="round"/><polygon points="415.60,272.26 420.30,280.26 410.90,280.26" fill="#2f66db" stroke="#2550bb" stroke-width="0.7" stroke-linejoin="round"/><polygon points="437.82,281.91 442.52,289.91 433.12,289.91" fill="#2f66db" stroke="#2550bb" stroke-width="0.7" stroke-linejoin="round"/><polygon points="460.05,303.73 464.75,311.73 455.35,311.73" fill="#2f66db" stroke="#2550bb" stroke-width="0.7" stroke-linejoin="round"/><polygon points="482.28,319.82 486.98,327.82 477.58,327.82" fill="#2f66db" stroke="#2550bb" stroke-width="0.7" stroke-linejoin="round"/><polygon points="504.50,331.26 509.20,339.26 499.80,339.26" fill="#2f66db" stroke="#2550bb" stroke-width="0.7" stroke-linejoin="round"/>

<polyline points="60.00,322.39 82.22,324.18 104.45,323.46 126.68,317.02 148.90,293.42 171.12,238.71 193.35,294.50 215.57,334.19 237.80,347.42 260.03,351.35 282.25,353.14 304.47,352.78 326.70,348.85 348.93,341.34 371.15,325.61 393.38,297.71 415.60,265.53 437.82,260.52 460.05,276.97 482.28,292.35 504.50,303.08" fill="none" stroke="#509a52" stroke-width="1.5" stroke-linejoin="round"/>
<polygon points="55.40,318.39 64.60,318.39 60.00,326.39" fill="#5fae5f" stroke="#4a944a" stroke-width="0.7" stroke-linejoin="round"/><polygon points="77.62,320.18 86.82,320.18 82.22,328.18" fill="#5fae5f" stroke="#4a944a" stroke-width="0.7" stroke-linejoin="round"/><polygon points="99.85,319.46 109.05,319.46 104.45,327.46" fill="#5fae5f" stroke="#4a944a" stroke-width="0.7" stroke-linejoin="round"/><polygon points="122.08,313.02 131.28,313.02 126.68,321.02" fill="#5fae5f" stroke="#4a944a" stroke-width="0.7" stroke-linejoin="round"/><polygon points="144.30,289.42 153.50,289.42 148.90,297.42" fill="#5fae5f" stroke="#4a944a" stroke-width="0.7" stroke-linejoin="round"/><polygon points="166.53,234.71 175.72,234.71 171.12,242.71" fill="#5fae5f" stroke="#4a944a" stroke-width="0.7" stroke-linejoin="round"/><polygon points="188.75,290.50 197.95,290.50 193.35,298.50" fill="#5fae5f" stroke="#4a944a" stroke-width="0.7" stroke-linejoin="round"/><polygon points="210.97,330.19 220.17,330.19 215.57,338.19" fill="#5fae5f" stroke="#4a944a" stroke-width="0.7" stroke-linejoin="round"/><polygon points="233.20,343.42 242.40,343.42 237.80,351.42" fill="#5fae5f" stroke="#4a944a" stroke-width="0.7" stroke-linejoin="round"/><polygon points="255.43,347.35 264.63,347.35 260.03,355.35" fill="#5fae5f" stroke="#4a944a" stroke-width="0.7" stroke-linejoin="round"/><polygon points="277.65,349.14 286.85,349.14 282.25,357.14" fill="#5fae5f" stroke="#4a944a" stroke-width="0.7" stroke-linejoin="round"/><polygon points="299.87,348.78 309.07,348.78 304.47,356.78" fill="#5fae5f" stroke="#4a944a" stroke-width="0.7" stroke-linejoin="round"/><polygon points="322.10,344.85 331.30,344.85 326.70,352.85" fill="#5fae5f" stroke="#4a944a" stroke-width="0.7" stroke-linejoin="round"/><polygon points="344.33,337.34 353.53,337.34 348.93,345.34" fill="#5fae5f" stroke="#4a944a" stroke-width="0.7" stroke-linejoin="round"/><polygon points="366.55,321.61 375.75,321.61 371.15,329.61" fill="#5fae5f" stroke="#4a944a" stroke-width="0.7" stroke-linejoin="round"/><polygon points="388.77,293.71 397.98,293.71 393.38,301.71" fill="#5fae5f" stroke="#4a944a" stroke-width="0.7" stroke-linejoin="round"/><polygon points="411.00,261.53 420.20,261.53 415.60,269.53" fill="#5fae5f" stroke="#4a944a" stroke-width="0.7" stroke-linejoin="round"/><polygon points="433.22,256.52 442.42,256.52 437.82,264.52" fill="#5fae5f" stroke="#4a944a" stroke-width="0.7" stroke-linejoin="round"/><polygon points="455.45,272.97 464.65,272.97 460.05,280.97" fill="#5fae5f" stroke="#4a944a" stroke-width="0.7" stroke-linejoin="round"/><polygon points="477.68,288.35 486.88,288.35 482.28,296.35" fill="#5fae5f" stroke="#4a944a" stroke-width="0.7" stroke-linejoin="round"/><polygon points="499.90,299.08 509.10,299.08 504.50,307.08" fill="#5fae5f" stroke="#4a944a" stroke-width="0.7" stroke-linejoin="round"/>

</g>
<rect x="60.0" y="7.7" width="444.5" height="357.6" fill="none" stroke="#1e1e1e" stroke-width="1.6"/>
<path d="M53.20 365.30H60.0 M497.50 365.30H504.5 M53.20 329.54H60.0 M497.50 329.54H504.5 M53.20 293.78H60.0 M497.50 293.78H504.5 M53.20 258.02H60.0 M497.50 258.02H504.5 M53.20 222.26H60.0 M497.50 222.26H504.5 M53.20 186.50H60.0 M497.50 186.50H504.5 M53.20 150.74H60.0 M497.50 150.74H504.5 M53.20 114.98H60.0 M497.50 114.98H504.5 M53.20 79.22H60.0 M497.50 79.22H504.5 M53.20 43.46H60.0 M497.50 43.46H504.5 M53.20 7.70H60.0 M497.50 7.70H504.5 M60.00 365.3V371.80 M171.12 365.3V371.80 M282.25 365.3V371.80 M393.38 365.3V371.80 M504.50 365.3V371.80" stroke="#1e1e1e" stroke-width="1.6" fill="none"/>
<text transform="translate(47.4 370.50) scale(1 1.05)" font-size="15.2" text-anchor="end" fill="#000" stroke="#000" stroke-width="0.2">0</text>
<text transform="translate(47.4 334.74) scale(1 1.05)" font-size="15.2" text-anchor="end" fill="#000" stroke="#000" stroke-width="0.2">10</text>
<text transform="translate(47.4 298.98) scale(1 1.05)" font-size="15.2" text-anchor="end" fill="#000" stroke="#000" stroke-width="0.2">20</text>
<text transform="translate(47.4 263.22) scale(1 1.05)" font-size="15.2" text-anchor="end" fill="#000" stroke="#000" stroke-width="0.2">30</text>
<text transform="translate(47.4 227.46) scale(1 1.05)" font-size="15.2" text-anchor="end" fill="#000" stroke="#000" stroke-width="0.2">40</text>
<text transform="translate(47.4 191.70) scale(1 1.05)" font-size="15.2" text-anchor="end" fill="#000" stroke="#000" stroke-width="0.2">50</text>
<text transform="translate(47.4 155.94) scale(1 1.05)" font-size="15.2" text-anchor="end" fill="#000" stroke="#000" stroke-width="0.2">60</text>
<text transform="translate(47.4 120.18) scale(1 1.05)" font-size="15.2" text-anchor="end" fill="#000" stroke="#000" stroke-width="0.2">70</text>
<text transform="translate(47.4 84.42) scale(1 1.05)" font-size="15.2" text-anchor="end" fill="#000" stroke="#000" stroke-width="0.2">80</text>
<text transform="translate(47.4 48.66) scale(1 1.05)" font-size="15.2" text-anchor="end" fill="#000" stroke="#000" stroke-width="0.2">90</text>
<text transform="translate(47.4 12.90) scale(1 1.05)" font-size="15.2" text-anchor="end" fill="#000" stroke="#000" stroke-width="0.2">100</text>
<text transform="translate(60.20 389.4) scale(1 1.05)" font-size="15.6" text-anchor="middle" fill="#000" stroke="#000" stroke-width="0.2">8.0</text>
<text transform="translate(171.32 389.4) scale(1 1.05)" font-size="15.6" text-anchor="middle" fill="#000" stroke="#000" stroke-width="0.2">8.5</text>
<text transform="translate(282.45 389.4) scale(1 1.05)" font-size="15.6" text-anchor="middle" fill="#000" stroke="#000" stroke-width="0.2">9.0</text>
<text transform="translate(393.57 389.4) scale(1 1.05)" font-size="15.6" text-anchor="middle" fill="#000" stroke="#000" stroke-width="0.2">9.5</text>
<text transform="translate(504.70 389.4) scale(1 1.05)" font-size="15.6" text-anchor="middle" fill="#000" stroke="#000" stroke-width="0.2">10.0</text>
<text transform="translate(282.6 417.6) scale(1 1.07)" font-size="18.7" text-anchor="middle" fill="#000" stroke="#000" stroke-width="0.25">Frequency(GHz)</text>
<text transform="translate(15.4 186.2) rotate(-90) scale(1 1.05)" font-size="18.7" text-anchor="middle" fill="#000" stroke="#000" stroke-width="0.25">Conversion efficiency(%)</text>
<line x1="210.8" y1="91.6" x2="236.8" y2="91.6" stroke="#404040" stroke-width="1.5"/>
<rect x="220.50" y="88.00" width="7.2" height="7.2" fill="#474747" stroke="#2e2e2e" stroke-width="0.8"/>
<text transform="translate(240.2 96.00) scale(1 1.05)" font-size="12" fill="#000" stroke="#000" stroke-width="0.22">TM<tspan font-size="8" dy="2.6">01</tspan><tspan dy="-2.6">(P1) — TE</tspan><tspan font-size="8" dy="2.6">01</tspan><tspan dy="-2.6">(P2)</tspan></text>
<line x1="210.8" y1="108.9" x2="236.8" y2="108.9" stroke="#d23a3a" stroke-width="1.5"/>
<circle cx="224.10" cy="108.90" r="4.2" fill="#de3c3c" stroke="#b82c2c" stroke-width="0.8"/>
<text transform="translate(240.2 113.30) scale(1 1.05)" font-size="12" fill="#000" stroke="#000" stroke-width="0.22">TM<tspan font-size="8" dy="2.6">01</tspan><tspan dy="-2.6">(P1) — TM</tspan><tspan font-size="8" dy="2.6">01</tspan><tspan dy="-2.6">(P2)</tspan></text>
<line x1="210.8" y1="126.0" x2="236.8" y2="126.0" stroke="#3360d0" stroke-width="1.5"/>
<polygon points="224.10,122.00 228.80,130.00 219.40,130.00" fill="#2f66db" stroke="#2550bb" stroke-width="0.7" stroke-linejoin="round"/>
<text transform="translate(240.2 130.40) scale(1 1.05)" font-size="12" fill="#000" stroke="#000" stroke-width="0.22">TM<tspan font-size="8" dy="2.6">01</tspan><tspan dy="-2.6">(P1) — TE</tspan><tspan font-size="8" dy="2.6">01</tspan><tspan dy="-2.6">(P1)</tspan></text>
<line x1="210.8" y1="143.2" x2="236.8" y2="143.2" stroke="#509a52" stroke-width="1.5"/>
<polygon points="219.50,139.20 228.70,139.20 224.10,147.20" fill="#5fae5f" stroke="#4a944a" stroke-width="0.7" stroke-linejoin="round"/>
<text transform="translate(240.2 147.60) scale(1 1.05)" font-size="12" fill="#000" stroke="#000" stroke-width="0.22">TM<tspan font-size="8" dy="2.6">01</tspan><tspan dy="-2.6">(P1) — TM</tspan><tspan font-size="8" dy="2.6">01</tspan><tspan dy="-2.6">(P1)</tspan></text>
<text transform="translate(84.9 83.6) scale(1 1.04)" font-size="18.8" fill="#000" stroke="#000" stroke-width="0.25">8.8 GHz</text>
<text transform="translate(369.9 30.4) scale(1 1.02)" font-size="18.5" fill="#000" stroke="#000" stroke-width="0.25">9.15 GHz</text>
<line x1="159.5" y1="67.4" x2="214.31" y2="50.11" stroke="#111" stroke-width="2"/><polygon points="224.8,46.8 214.56,54.22 212.15,46.60" fill="#111"/>
<line x1="362.5" y1="24.7" x2="328.72" y2="36.09" stroke="#111" stroke-width="2"/><polygon points="318.3,39.6 328.39,31.98 330.95,39.56" fill="#111"/>
</svg></body></html>
